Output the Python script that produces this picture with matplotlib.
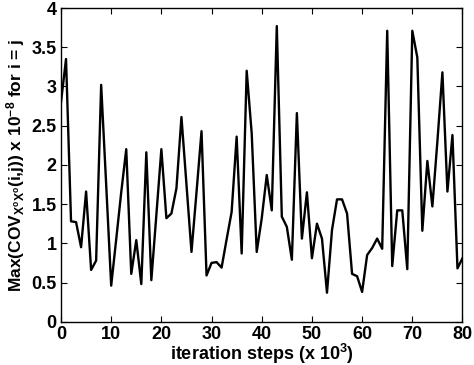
import matplotlib
matplotlib.use('Agg')
import matplotlib.pyplot as plt
from matplotlib.ticker import FuncFormatter

# iteration step (x 10^3) and max covariance value (x 10^-8)
steps = list(range(0, 81))
max_cov = [
    2.80, 3.35, 1.28, 1.27, 0.95, 1.66, 0.66, 0.78, 3.02, 1.75,
    0.46, 1.05, 1.65, 2.20, 0.61, 1.04, 0.48, 2.16, 0.53, 1.36,
    2.20, 1.32, 1.38, 1.70, 2.61, 1.75, 0.89, 1.65, 2.43, 0.59,
    0.75, 0.76, 0.69, 1.05, 1.40, 2.36, 0.87, 3.20, 2.40, 0.89,
    1.32, 1.87, 1.42, 3.77, 1.34, 1.21, 0.79, 2.66, 1.06, 1.65,
    0.81, 1.25, 1.06, 0.37, 1.17, 1.56, 1.56, 1.38, 0.61, 0.58,
    0.38, 0.85, 0.94, 1.06, 0.93, 3.71, 0.71, 1.42, 1.42, 0.67,
    3.71, 3.37, 1.16, 2.05, 1.47, 2.30, 3.18, 1.66, 2.38, 0.68,
    0.81,
]
x_ticks = [0, 10, 20, 30, 40, 50, 60, 70, 80]
y_ticks = [0, 0.5, 1, 1.5, 2, 2.5, 3, 3.5, 4]

plt.rcParams['font.family'] = ['Liberation Sans', 'DejaVu Sans']
plt.rcParams['font.weight'] = 'bold'
plt.rcParams['mathtext.fontset'] = 'custom'
plt.rcParams['mathtext.rm'] = 'Liberation Sans:bold'
plt.rcParams['mathtext.it'] = 'Liberation Sans:bold'
plt.rcParams['mathtext.bf'] = 'Liberation Sans:bold'
plt.rcParams['mathtext.default'] = 'bf'

fig = plt.figure(figsize=(4.74, 3.65), dpi=100)
ax = fig.add_axes([0.1287, 0.1186, 0.9757 - 0.1287, 0.978 - 0.1186])

ax.plot(steps, max_cov, color='black', linewidth=1.7)

ax.set_xlim(0, 80)
ax.set_ylim(0, 4)
ax.set_xticks(x_ticks)
ax.set_yticks(y_ticks)
ax.yaxis.set_major_formatter(FuncFormatter(lambda v, p: f'{v:g}'))
ax.tick_params(direction='in', top=True, right=True, length=4, width=0.8,
               labelsize=13, pad=3)
for lab in ax.get_xticklabels() + ax.get_yticklabels():
    lab.set_fontweight('bold')
for sp in ax.spines.values():
    sp.set_linewidth(1.0)

ax.set_xlabel(r'iteration steps (x 10$^{3}$)', fontsize=13, fontweight='bold',
              labelpad=-1)
ax.set_ylabel(r'Max(COV$_{X^{o}X^{o}}$(i,j)) x 10$^{-8}$ for i = j',
              fontsize=12.5, fontweight='bold', labelpad=3)

fig.savefig('out.png', dpi=100)
